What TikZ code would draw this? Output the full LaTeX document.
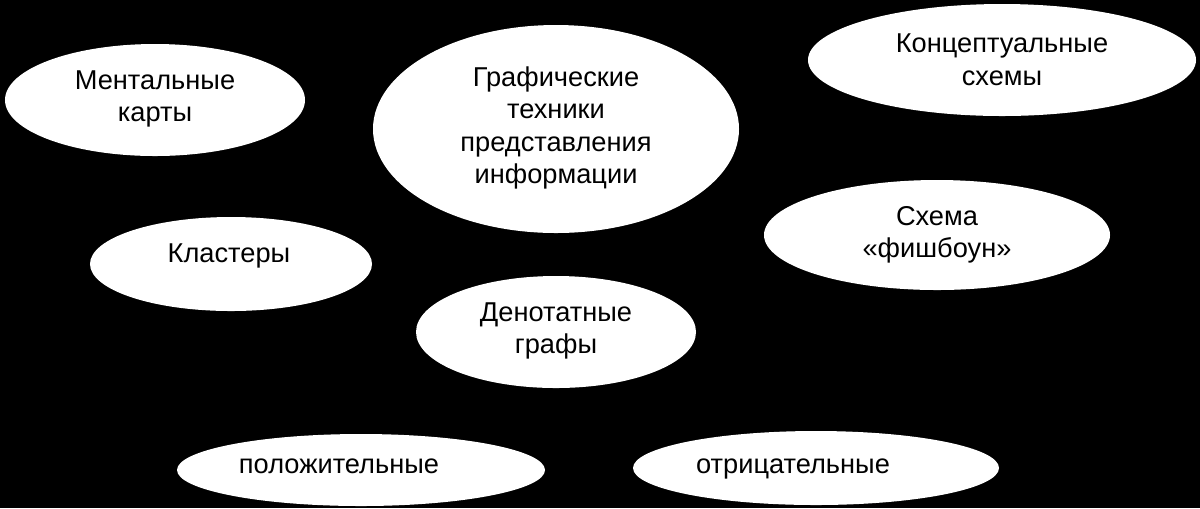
\documentclass[tikz,border=0pt]{standalone}
\usepackage{fontspec}
\setmainfont{Liberation Sans}
\usetikzlibrary{shapes.geometric}

\begin{document}
\begin{tikzpicture}[x=0.2mm, y=-0.2mm,
	blob/.style={ellipse, fill=white, draw=none, inner sep=0pt},
	lbl/.style={align=center, text=black, inner sep=0pt, font=\fontsize{15.5}{18.5}\selectfont}]
			%%%%% START %%%%%
			
			\fill[black] (0, 0) rectangle (1200, 508);
			\useasboundingbox (0, 0) rectangle (1200, 508);
			
			\node[blob, minimum width=60mm, minimum height=22.4mm] (ment) at (155, 100) {};
			\node[lbl] (ment-t) at (155, 99) {Ментальные\\карты};
			
			\node[blob, minimum width=73.2mm, minimum height=41.6mm] (graf) at (556, 129) {};
			\node[lbl] (graf-t) at (556, 128) {Графические\\техники\\представления\\информации};
			
			\node[blob, minimum width=77.6mm, minimum height=22.4mm] (konc) at (1002, 60) {};
			\node[lbl] (konc-t) at (1002, 60) {Концептуальные\\схемы};
			
			\node[blob, minimum width=56.4mm, minimum height=18.8mm] (klast) at (231, 264) {};
			\node[lbl] (klast-t) at (229, 256) {Кластеры};
			
			\node[blob, minimum width=69.2mm, minimum height=22mm] (fish) at (937, 235) {};
			\node[lbl] (fish-t) at (937, 235) {Схема\\«фишбоун»};
			
			\node[blob, minimum width=56mm, minimum height=22.4mm] (denot) at (556, 332) {};
			\node[lbl] (denot-t) at (556, 331) {Денотатные\\графы};
			
			\node[blob, minimum width=73.6mm, minimum height=14.4mm] (polozh) at (361, 470) {};
			\node[lbl] (polozh-t) at (339, 466) {положительные};
			
			\node[blob, minimum width=73.2mm, minimum height=14.8mm] (otric) at (816, 468) {};
			\node[lbl] (otric-t) at (793, 469) {отрицательные};
			
			%%%%% END %%%%%
		\end{tikzpicture}
\end{document}
